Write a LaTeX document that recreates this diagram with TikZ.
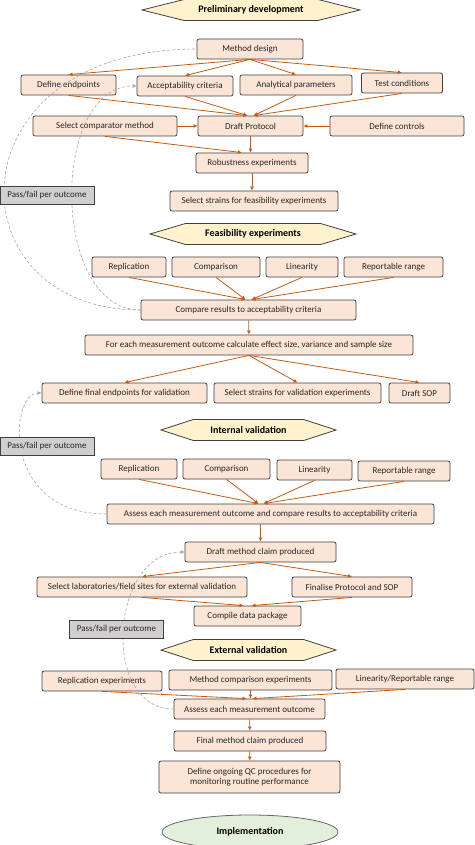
\documentclass[tikz,border=0pt]{standalone}
\usepackage{fontspec}
\setmainfont{Carlito}
\usetikzlibrary{shapes.geometric, shapes.symbols, arrows.meta}
\definecolor{xorange}{HTML}{C55A11}
\definecolor{xpeach}{HTML}{FBE5D6}
\definecolor{xyellow}{HTML}{FFF2CC}
\definecolor{xgreen}{HTML}{E2EFDA}
\definecolor{xgrey}{HTML}{D0CECE}
\definecolor{xline}{HTML}{404040}
\definecolor{xtext}{HTML}{262626}
\tikzset{
	arrow/.style={xorange, line width=0.8pt, -{Latex[length=4pt, width=4pt]}},
	feedback/.style={draw=gray!70, line width=0.6pt, dash pattern=on 3pt off 2pt, -{Latex[length=4pt, width=4pt]}},
	box/.style={draw=xline, fill=xpeach, rounded corners=2pt, line width=0.8pt, minimum height=20pt, inner sep=1pt, text=xtext, font=\fontsize{9}{10.5}\selectfont},
	phase/.style={signal, signal to=west and east, signal pointer angle=36, draw=xline, fill=xyellow, line width=0.8pt, minimum height=21pt, inner sep=1pt, text=black, font=\bfseries\fontsize{10}{12}\selectfont},
	passfail/.style={draw=xline, fill=xgrey, line width=0.8pt, minimum width=94pt, minimum height=18pt, inner sep=1pt, text=xtext, font=\fontsize{9}{10.5}\selectfont},
}

\begin{document}
\begin{tikzpicture}[x=1pt, y=-1pt]
		\useasboundingbox (0,0) rectangle (474,845);

		% Preliminary development
		\node[phase, signal pointer angle=28, minimum width=218pt] (pd) at (251,10) {Preliminary development};
		\node[box, minimum width=106pt] (md) at (250,49) {Method design};
		\node[box, minimum width=95pt] (de) at (68.5,85) {Define endpoints};
		\node[box, minimum width=96pt] (ac) at (185,86) {Acceptability criteria};
		\node[box, minimum width=112pt] (ap) at (296,85) {Analytical parameters};
		\node[box, minimum width=81pt] (tc) at (402,83) {Test conditions};
		\node[box, minimum width=144pt] (sc) at (105,126) {Select comparator method};
		\node[box, minimum width=105pt] (dp) at (250.5,126) {Draft Protocol};
		\node[box, minimum width=134pt] (dc) at (397,126) {Define controls};
		\node[box, minimum width=112pt] (rob) at (252,163) {Robustness experiments};
		\node[box, minimum width=168pt] (ssf) at (254,201) {Select strains for feasibility experiments};

		\foreach \n in {de, ac, ap, tc}
			\draw[arrow] (md.south) -- (\n.north);
		\draw[arrow] (de.south) -- ([xshift=-3pt]dp.north);
		\draw[arrow] (ac.south) -- ([xshift=-3pt]dp.north);
		\draw[arrow] (ap.south) -- ([xshift=3pt]dp.north);
		\draw[arrow] (tc.south) -- ([xshift=3pt]dp.north);
		\draw[arrow] (sc) -- (dp);
		\draw[arrow] (dc) -- (dp);
		\draw[arrow] (sc.south) -- ([xshift=-10pt]rob.north);
		\draw[arrow] (dp.south) -- (dp.south |- rob.north);
		\draw[arrow] (rob.south) -- (rob.south |- ssf.north);

		% Feasibility experiments
		\node[phase, signal pointer angle=33, minimum width=206pt] (fe) at (253,234) {Feasibility experiments};
		\node[box, minimum width=74pt] (frep) at (129,267) {Replication};
		\node[box, minimum width=88pt] (fcom) at (216,267) {Comparison};
		\node[box, minimum width=72pt] (flin) at (302,267) {Linearity};
		\node[box, minimum width=99pt] (frr) at (393.5,267) {Reportable range};
		\node[box, minimum width=215pt] (cmp) at (248.5,310) {Compare results to acceptability criteria};
		\node[box, minimum width=328pt] (fem) at (249,345) {For each measurement outcome calculate effect size, variance and sample size};
		\node[box, minimum width=165pt] (dfe) at (124.5,393) {Define final endpoints for validation};
		\node[box, minimum width=167pt] (ssv) at (297.5,393) {Select strains for validation experiments};
		\node[box, minimum width=61pt] (dsop) at (419.5,393) {Draft SOP};

		\foreach \n in {frep, fcom}
			\draw[arrow] (\n.south) -- ([xshift=-3pt]cmp.north);
		\foreach \n in {flin, frr}
			\draw[arrow] (\n.south) -- ([xshift=3pt]cmp.north);
		\draw[arrow] (cmp) -- (fem);
		\foreach \n in {dfe, ssv, dsop}
			\draw[arrow] (fem.south) -- (\n.north);

		% Internal validation
		\node[phase, minimum width=175pt] (iv) at (248.5,430) {Internal validation};
		\node[box, minimum width=76pt] (irep) at (139,469) {Replication};
		\node[box, minimum width=87pt] (icom) at (226.5,469) {Comparison};
		\node[box, minimum width=75pt] (ilin) at (314.5,470) {Linearity};
		\node[box, minimum width=92pt] (irr) at (404,471) {Reportable range};
		\node[box, minimum width=327pt] (ia) at (270.5,514) {Assess each measurement outcome and compare results to acceptability criteria};
		\node[box, minimum width=151pt] (dmc) at (260.5,552) {Draft method claim produced};
		\node[box, minimum width=210pt] (sl) at (142,587) {Select laboratories/field sites for external validation};
		\node[box, minimum width=120pt] (fps) at (352,587) {Finalise Protocol and SOP};
		\node[box, minimum width=107pt] (cdp) at (247.5,616) {Compile data package};

		\foreach \n in {irep, icom}
			\draw[arrow] (\n.south) -- ([xshift=-12pt]ia.north);
		\foreach \n in {ilin, irr}
			\draw[arrow] (\n.south) -- ([xshift=-7pt]ia.north);
		\draw[arrow] (ia.south -| dmc.north) -- (dmc.north);
		\foreach \n in {sl, fps}
			\draw[arrow] (dmc.south) -- (\n.north);
		\draw[arrow] (sl.south) -- ([xshift=-4pt]cdp.north);
		\draw[arrow] (fps.south) -- ([xshift=4pt]cdp.north);

		% External validation
		\node[phase, minimum width=175pt] (ev) at (248.5,650) {External validation};
		\node[box, minimum width=120pt] (erep) at (102,681) {Replication experiments};
		\node[box, minimum width=163pt] (emc) at (250.5,680) {Method comparison experiments};
		\node[box, minimum width=138pt] (elr) at (405,679) {Linearity/Reportable range};
		\node[box, minimum width=151pt] (ea) at (249.5,709) {Assess each measurement outcome};
		\node[box, minimum width=152pt] (fmc) at (250,741) {Final method claim produced};
		\node[box, minimum width=181pt, minimum height=32pt, align=center] (qc) at (249.5,777) {Define ongoing QC procedures for\\monitoring routine performance};
		\node[ellipse, draw=xline!80, fill=xgreen, line width=0.8pt, minimum width=176pt, minimum height=34pt, text=black, font=\bfseries\fontsize{10}{12}\selectfont] (imp) at (250,832) {Implementation};

		\draw[arrow] (erep.south) -- ([xshift=-3pt]ea.north);
		\draw[arrow] (emc.south) -- (emc.south |- ea.north);
		\draw[arrow] (elr.south) -- ([xshift=3pt]ea.north);
		\draw[arrow] (ea) -- (fmc);
		\draw[arrow] (fmc) -- (qc);

		% Feedback loops
		\draw[feedback, -] (cmp.west) .. controls (-50,310) and (-50,49) .. (md.west);
		\draw[feedback] (cmp.west) .. controls (50,310) and (50,86) .. (ac.west);
		\draw[feedback] (ia.west) .. controls (0,514) and (10,393) .. (dfe.west);
		\draw[feedback] (ea.west) .. controls (100,709) and (110,552) .. (dmc.west);

		\node[passfail] (pf1) at (47,195) {Pass/fail per outcome};
		\node[passfail] (pf2) at (47,446) {Pass/fail per outcome};
		\node[passfail] (pf3) at (116.5,629) {Pass/fail per outcome};
	\end{tikzpicture}
\end{document}
